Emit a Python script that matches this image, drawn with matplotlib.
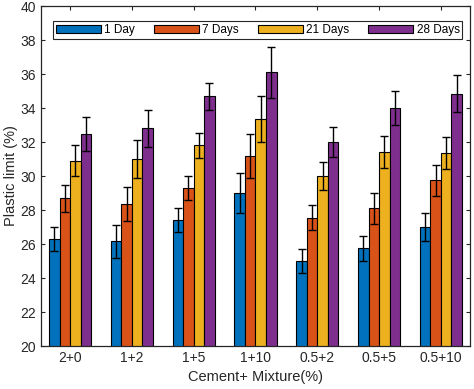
import numpy as np
import matplotlib
matplotlib.use('Agg')
import matplotlib.pyplot as plt

plt.rcParams['font.family'] = ['Liberation Sans', 'DejaVu Sans']

mixtures = ['2+0', '1+2', '1+5', '1+10', '0.5+2', '0.5+5', '0.5+10']
series_names = ['1 Day', '7 Days', '21 Days', '28 Days']

day1 = [26.3, 26.15, 27.4, 29.0, 25.0, 25.75, 27.0]
day7 = [28.7, 28.35, 29.3, 31.2, 27.55, 28.1, 29.75]
day21 = [30.9, 31.0, 31.8, 33.35, 30.0, 31.4, 31.35]
day28 = [32.5, 32.8, 34.7, 36.1, 32.0, 34.0, 34.85]

err1 = [0.7, 0.95, 0.7, 1.2, 0.7, 0.75, 0.85]
err7 = [0.8, 1.0, 0.7, 1.3, 0.75, 0.9, 0.9]
err21 = [0.9, 1.1, 0.75, 1.35, 0.8, 0.95, 0.95]
err28 = [1.0, 1.1, 0.8, 1.5, 0.9, 1.0, 1.1]

colors = ['#0072BD', '#D95319', '#EDB120', '#7E2F8E']
dark = '#262626'

fig = plt.figure(figsize=(4.74, 3.89), dpi=100)
ax = fig.add_axes([0.0865, 0.1105, 0.905, 0.874])

x = np.arange(1, len(mixtures) + 1)
w = 0.17
vals = [day1, day7, day21, day28]
errs = [err1, err7, err21, err28]
for i in range(4):
    pos = x + (i - 1.5) * w
    ax.bar(pos, vals[i], width=w, color=colors[i], edgecolor='black',
           linewidth=0.8, label=series_names[i], zorder=2)
    ax.errorbar(pos, vals[i], yerr=errs[i], fmt='none', ecolor='black',
                elinewidth=1.0, capsize=3, capthick=1.0, zorder=3)

ax.set_xlim(0.53, 7.47)
ax.set_ylim(20, 40)
ax.set_yticks(np.arange(20, 41, 2))
ax.set_xticks(x)
ax.set_xticklabels(mixtures)
ax.tick_params(direction='in', top=True, right=True, length=3, width=0.8,
               colors=dark, labelsize=10, labelcolor=dark)
for s in ax.spines.values():
    s.set_color(dark)
    s.set_linewidth(0.9)

ax.set_xlabel('Cement+ Mixture(%)', fontsize=10.5, color=dark)
ax.set_ylabel('Plastic limit (%)', fontsize=10.5, color=dark, labelpad=2)

leg = ax.legend(loc='upper center', bbox_to_anchor=(0.505, 0.972), ncol=4,
                fontsize=8.5, handlelength=3.8, handleheight=0.6,
                columnspacing=1.6, handletextpad=0.3, borderpad=0.25,
                fancybox=False, framealpha=1, edgecolor=dark)
leg.get_frame().set_linewidth(0.8)

fig.savefig('out.png', dpi=100)
